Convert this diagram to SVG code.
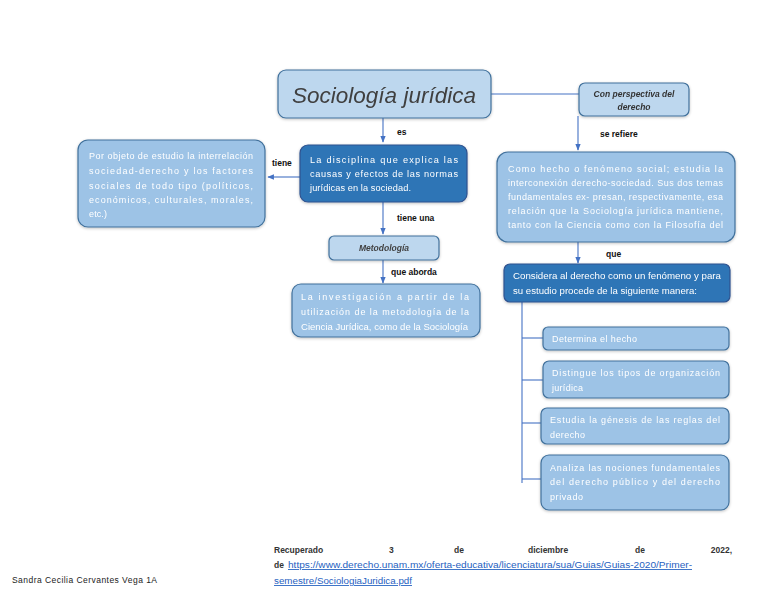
<svg xmlns="http://www.w3.org/2000/svg" width="768" height="594" viewBox="0 0 768 594">
<style>
.t{font-family:"Liberation Sans",Arial,sans-serif;}
.lt{fill:#bdd7ee;stroke:#41719c;stroke-width:1.2;}
.md{fill:#9dc3e6;stroke:#41719c;stroke-width:1.2;}
.dk{fill:#2e75b6;stroke:#2f528f;stroke-width:1.2;}
.w{font-family:"Liberation Sans",Arial,sans-serif;font-size:9px;fill:#ffffff;}
.wd{font-family:"Liberation Sans",Arial,sans-serif;font-size:9.2px;fill:#ffffff;}
.lb{font-family:"Liberation Sans",Arial,sans-serif;font-size:8.5px;font-weight:bold;fill:#111111;}
.c{stroke:#4472c4;stroke-width:1.1;fill:none;}
.ft{font-family:"Liberation Sans",Arial,sans-serif;font-size:8.5px;fill:#222222;}
.fb{font-family:"Liberation Sans",Arial,sans-serif;font-size:8.5px;font-weight:bold;fill:#333333;}
.lk{font-family:"Liberation Sans",Arial,sans-serif;font-size:8.5px;fill:#1f5fbf;text-decoration:underline;}
</style>
<defs>
<marker id="ah" viewBox="0 0 10 10" refX="9" refY="5" markerWidth="6" markerHeight="6" orient="auto">
<path d="M0,1 L10,5 L0,9 z" fill="#4472c4"/>
</marker>
<filter id="sh" x="-10%" y="-20%" width="120%" height="140%">
<feGaussianBlur in="SourceAlpha" stdDeviation="1.5"/>
<feOffset dx="0" dy="1" result="b"/>
<feComponentTransfer><feFuncA type="linear" slope="0.25"/></feComponentTransfer>
<feMerge><feMergeNode/><feMergeNode in="SourceGraphic"/></feMerge>
</filter>
</defs>
<rect width="768" height="594" fill="#ffffff"/>

<g id="connectors">
<line class="c" x1="491" y1="94" x2="579" y2="94"/>
<line class="c" x1="383" y1="118" x2="383" y2="142" marker-end="url(#ah)"/>
<line class="c" x1="300" y1="177" x2="268" y2="177" marker-end="url(#ah)"/>
<line class="c" x1="383" y1="202" x2="383" y2="234" marker-end="url(#ah)"/>
<line class="c" x1="383" y1="260" x2="383" y2="283" marker-end="url(#ah)"/>
<line class="c" x1="578" y1="116" x2="578" y2="150" marker-end="url(#ah)"/>
<line class="c" x1="578" y1="242" x2="578" y2="263" marker-end="url(#ah)"/>
<line class="c" x1="522" y1="302" x2="522" y2="483"/>
<line class="c" x1="522" y1="338" x2="543" y2="338"/>
<line class="c" x1="522" y1="380" x2="543" y2="380"/>
<line class="c" x1="522" y1="423" x2="541" y2="423"/>
<line class="c" x1="522" y1="479" x2="541" y2="479"/>
<text class="lb" x="397" y="135">es</text>
<text class="lb" x="272" y="166">tiene</text>
<text class="lb" x="397" y="221">tiene una</text>
<text class="lb" x="391" y="275">que aborda</text>
<text class="lb" x="600" y="137">se refiere</text>
<text class="lb" x="606" y="257">que</text>
</g>

<g id="title" filter="url(#sh)">
<rect class="lt" x="278" y="70" width="213" height="48" rx="8"/>
<text class="t" x="384" y="103" font-size="22.5" font-style="italic" fill="#404040" text-anchor="middle">Sociología jurídica</text>
</g>

<g id="perspectiva" filter="url(#sh)">
<rect class="lt" x="579" y="83" width="110" height="33" rx="6"/>
<text class="t" x="634" y="97" font-size="8.5" font-style="italic" font-weight="bold" fill="#333333" text-anchor="middle">Con perspectiva del</text>
<text class="t" x="634" y="110" font-size="8.5" font-style="italic" font-weight="bold" fill="#333333" text-anchor="middle">derecho</text>
</g>

<g id="disciplina" filter="url(#sh)">
<rect class="dk" x="300" y="145" width="167" height="57" rx="8"/>
<text class="wd" x="310" y="163" textLength="148" lengthAdjust="spacing">La disciplina que explica las</text>
<text class="wd" x="310" y="177" textLength="148" lengthAdjust="spacing">causas y efectos de las normas</text>
<text class="wd" x="310" y="191" textLength="101" lengthAdjust="spacing">jurídicas en la sociedad.</text>
</g>

<g id="objeto" filter="url(#sh)">
<rect class="md" x="78" y="140" width="187" height="87" rx="10"/>
<text class="w" x="89" y="159" textLength="164" lengthAdjust="spacing">Por objeto de estudio la interrelación</text>
<text class="w" x="89" y="174" textLength="164" lengthAdjust="spacing">sociedad-derecho  y  los  factores</text>
<text class="w" x="89" y="189" textLength="164" lengthAdjust="spacing">sociales  de  todo  tipo  (políticos,</text>
<text class="w" x="89" y="203" textLength="164" lengthAdjust="spacing">económicos,   culturales,   morales,</text>
<text class="w" x="89" y="217" textLength="18" lengthAdjust="spacing">etc.)</text>
</g>

<g id="metodologia" filter="url(#sh)">
<rect class="lt" x="329" y="236" width="110" height="24" rx="5"/>
<text class="t" x="384" y="251" font-size="8.5" font-style="italic" font-weight="bold" fill="#404040" text-anchor="middle">Metodología</text>
</g>

<g id="investigacion" filter="url(#sh)">
<rect class="md" x="292" y="284" width="188" height="53" rx="9"/>
<text class="w" x="301" y="300" textLength="168" lengthAdjust="spacing">La  investigación  a  partir  de  la</text>
<text class="w" x="301" y="315" textLength="168" lengthAdjust="spacing">utilización de la metodología de la</text>
<text class="w" x="301" y="330" textLength="167" lengthAdjust="spacingAndGlyphs">Ciencia Jurídica, como de la Sociología</text>
</g>

<g id="hecho" filter="url(#sh)">
<rect class="md" x="497" y="152" width="238" height="90" rx="11"/>
<text class="w" x="508" y="172" textLength="215" lengthAdjust="spacing">Como hecho o fenómeno social; estudia la</text>
<text class="w" x="508" y="186" textLength="215" lengthAdjust="spacing">interconexión derecho-sociedad. Sus dos temas</text>
<text class="w" x="508" y="200" textLength="215" lengthAdjust="spacing">fundamentales ex- presan, respectivamente, esa</text>
<text class="w" x="508" y="214" textLength="215" lengthAdjust="spacing">relación que la Sociología jurídica mantiene,</text>
<text class="w" x="508" y="228" textLength="215" lengthAdjust="spacing">tanto con la Ciencia como con la Filosofía del</text>
</g>

<g id="considera" filter="url(#sh)">
<rect class="dk" x="504" y="264" width="226" height="38" rx="6"/>
<text class="wd" x="513" y="279" textLength="208" lengthAdjust="spacingAndGlyphs">Considera al derecho como un fenómeno y para</text>
<text class="wd" x="513" y="294" textLength="184" lengthAdjust="spacingAndGlyphs">su estudio procede de la siguiente manera:</text>
</g>

<g id="determina" filter="url(#sh)">
<rect class="md" x="543" y="327" width="186" height="23" rx="5"/>
<text class="w" x="552" y="342" textLength="85" lengthAdjust="spacing">Determina el hecho</text>
</g>

<g id="distingue" filter="url(#sh)">
<rect class="md" x="543" y="361" width="186" height="37" rx="6"/>
<text class="w" x="552" y="376" textLength="168" lengthAdjust="spacing">Distingue los tipos de organización</text>
<text class="w" x="552" y="391" textLength="31" lengthAdjust="spacing">jurídica</text>
</g>

<g id="estudia" filter="url(#sh)">
<rect class="md" x="541" y="408" width="188" height="36" rx="6"/>
<text class="w" x="550" y="423" textLength="170" lengthAdjust="spacing">Estudia la génesis de las reglas del</text>
<text class="w" x="550" y="438" textLength="35" lengthAdjust="spacing">derecho</text>
</g>

<g id="analiza" filter="url(#sh)">
<rect class="md" x="541" y="455" width="188" height="55" rx="8"/>
<text class="w" x="550" y="471" textLength="170" lengthAdjust="spacing">Analiza las nociones fundamentales</text>
<text class="w" x="550" y="485" textLength="170" lengthAdjust="spacing">del derecho público y del derecho</text>
<text class="w" x="550" y="500" textLength="33" lengthAdjust="spacing">privado</text>
</g>

<g id="footer">
<text class="ft" x="12" y="583" textLength="145" lengthAdjust="spacing">Sandra Cecilia Cervantes Vega 1A</text>
<text class="fb" x="274" y="553">Recuperado</text>
<text class="fb" x="389" y="553">3</text>
<text class="fb" x="454" y="553">de</text>
<text class="fb" x="528" y="553">diciembre</text>
<text class="fb" x="635" y="553">de</text>
<text class="fb" x="732" y="553" text-anchor="end">2022,</text>
<text class="fb" x="274" y="568">de</text>
<text class="lk" x="288" y="568" textLength="404" lengthAdjust="spacingAndGlyphs">https://www.derecho.unam.mx/oferta-educativa/licenciatura/sua/Guias/Guias-2020/Primer-</text>
<text class="lk" x="274" y="584" textLength="138" lengthAdjust="spacingAndGlyphs">semestre/SociologiaJuridica.pdf</text>
</g>
</svg>
